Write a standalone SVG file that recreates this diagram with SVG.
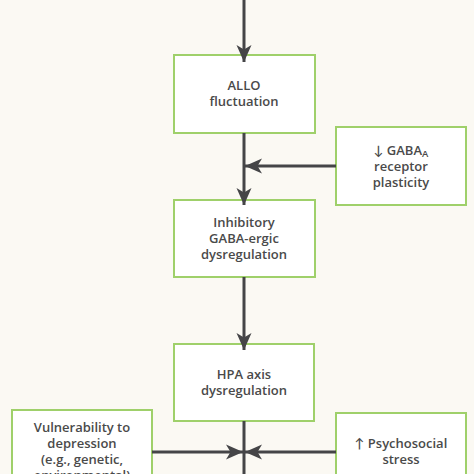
<svg xmlns="http://www.w3.org/2000/svg" width="474" height="474" viewBox="0 0 474 474">
<style>
.box{fill:#ffffff;stroke:#9fd06a;stroke-width:2}
.t{font-family:"Open Sans",Lato,"Liberation Sans",sans-serif;font-size:13px;font-weight:600;fill:#4a4a4a;text-anchor:middle}
.c{stroke:#454547;stroke-width:3;fill:none}
</style>
<defs>
<marker id="ah" markerUnits="userSpaceOnUse" markerWidth="20" markerHeight="16" viewBox="-18 -8 20 16" refX="0" refY="0" orient="auto">
<path d="M0,0 L-17,-7.5 L-12.5,0 L-17,7.5 Z" fill="#454547"/>
</marker>
</defs>
<rect width="474" height="474" fill="#fbf9f3"/>
<g id="allo"><rect class="box" x="174" y="55" width="141" height="78"/><text class="t" x="244" y="90">ALLO</text><text class="t" x="244" y="106">fluctuation</text></g>
<g id="gaba"><rect class="box" x="336" y="127" width="130" height="78"/><text class="t" x="401" y="155">↓ GABA<tspan font-size="9.5" dy="2">A</tspan></text><text class="t" x="401" y="171">receptor</text><text class="t" x="401" y="187">plasticity</text></g>
<g id="inhib"><rect class="box" x="174" y="200" width="141" height="77"/><text class="t" x="244" y="227">Inhibitory</text><text class="t" x="244" y="243">GABA-ergic</text><text class="t" x="244" y="259">dysregulation</text></g>
<g id="hpa"><rect class="box" x="174" y="344" width="140" height="77"/><text class="t" x="244" y="379">HPA axis</text><text class="t" x="244" y="395">dysregulation</text></g>
<g id="vuln"><rect class="box" x="12" y="410" width="140" height="80"/><text class="t" x="82" y="432">Vulnerability to</text><text class="t" x="82" y="448">depression</text><text class="t" x="82" y="464">(e.g., genetic,</text><text class="t" x="82" y="480">environmental)</text></g>
<g id="psych"><rect class="box" x="336" y="413" width="130" height="80"/><text class="t" x="401" y="448">↑ Psychosocial</text><text class="t" x="401" y="464">stress</text></g>
<g id="connectors">
<path class="c" d="M244,0 V62" marker-end="url(#ah)"/>
<path class="c" d="M244,133 V205" marker-end="url(#ah)"/>
<path class="c" d="M336,166 H245" marker-end="url(#ah)"/>
<path class="c" d="M244,277 V350" marker-end="url(#ah)"/>
<path class="c" d="M244,421 V474"/>
<path class="c" d="M152,452 H243" marker-end="url(#ah)"/>
<path class="c" d="M336,452 H245" marker-end="url(#ah)"/>
</g>
</svg>
